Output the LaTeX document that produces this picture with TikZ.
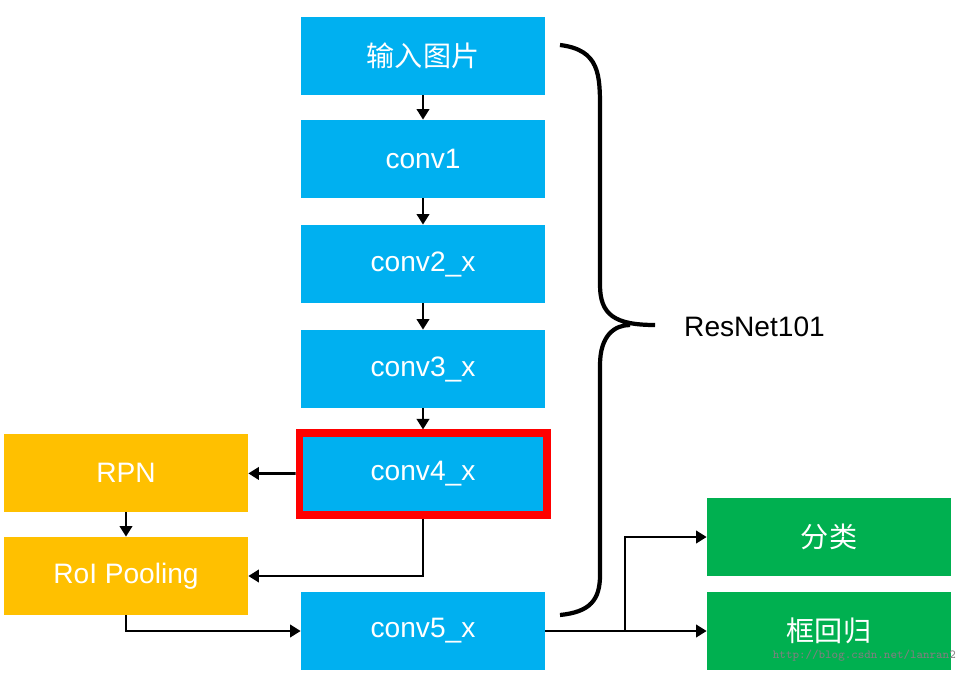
\documentclass[tikz,border=0pt]{standalone}
\usepackage{fontspec}
\setmainfont{Liberation Sans}
\newfontfamily\cjk{Noto Sans CJK SC}
\usetikzlibrary{arrows.meta}
\definecolor{boxblue}{HTML}{00B0F0}
\definecolor{boxorange}{HTML}{FFC000}
\definecolor{boxgreen}{HTML}{00B050}
\begin{document}
\begin{tikzpicture}[
    x=0.02cm, y=-0.02cm,
    font=\fontsize{16}{18}\selectfont,
    box/.style={minimum width=4.88cm, minimum height=1.56cm, inner sep=0pt, text=white},
    blue box/.style={box, fill=boxblue},
    orange box/.style={box, fill=boxorange},
    green box/.style={box, fill=boxgreen},
    link/.style={line width=1.6pt, -{Triangle[length=6pt,width=7pt]}}
  ]
  \useasboundingbox (0,0) rectangle (962,675);
  % backbone
  \node [blue box] (img) at (423,56) {\cjk 输入图片};
  \node [blue box] (c1) at (423,159) {conv1};
  \node [blue box] (c2) at (423,264) {conv2\_x};
  \node [blue box] (c3) at (423,369) {conv3\_x};
  \node [blue box, draw=red, line width=4pt, minimum width=4.96cm, minimum height=1.64cm] (c4) at (423,474) {conv4\_x};
  \node [blue box] (c5) at (423,631) {conv5\_x};
  % detection branch
  \node [orange box] (rpn) at (126,473) {RPN};
  \node [orange box] (roi) at (126,576) {RoI Pooling};
  \node [green box] (cls) at (829,537) {\cjk 分类};
  \node [green box] (reg) at (829,631) {\cjk 框回归};
  \foreach \a/\b in {img/c1, c1/c2, c2/c3, c3/c4, rpn/roi}
    \draw [link] (\a) -- (\b);
  \draw [link] (c4) -- (rpn);
  \draw [link] (c4.south) |- (roi.east);
  \draw [link] (roi.south) |- (c5.west);
  \draw [link] (c5) -- (reg);
  \coordinate (split) at (625,631);
  \draw [link] (split) |- (cls.west);
  % brace
  \draw [line width=2.4pt] (560,45) .. controls (600,50) and (600,75) .. (600,110)
    -- (600,285) .. controls (600,315) and (615,325) .. (655,325)
    (630,325) .. controls (615,325) and (600,335) .. (600,365)
    -- (600,575) .. controls (600,600) and (590,612) .. (560,615);
  \node [anchor=west] (resnet) at (678,327) {ResNet101};
  \node [anchor=south east, text=gray, font=\ttfamily\scriptsize] (mark) at (962,668) {http://blog.csdn.net/lanran2};
\end{tikzpicture}
\end{document}
